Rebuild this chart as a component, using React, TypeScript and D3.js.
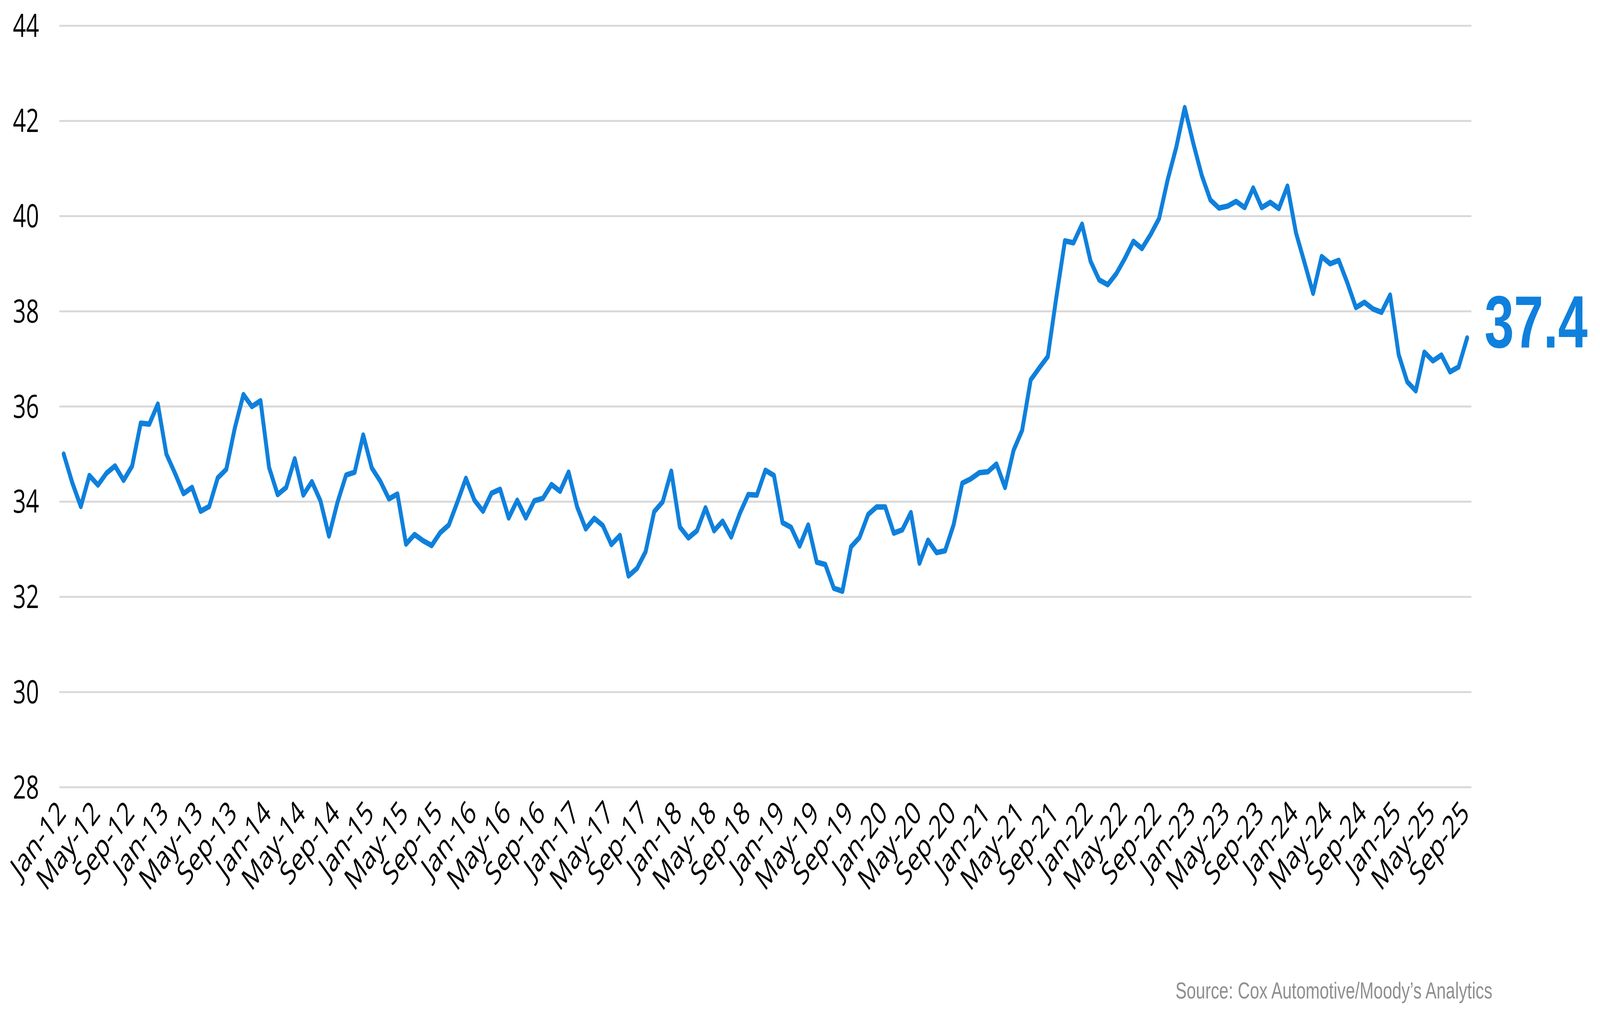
import React, { useRef, useEffect } from 'react';
import * as d3 from 'd3';

// Monthly values, Jan-12 .. Sep-25
const values2012 = [35.0, 34.4, 33.9, 34.55, 34.35, 34.6, 34.75, 34.45, 34.75, 35.65, 35.63, 36.05];
const values2013 = [35.0, 34.6, 34.17, 34.3, 33.8, 33.9, 34.5, 34.68, 35.55, 36.25, 36.0, 36.12];
const values2014 = [34.72, 34.15, 34.3, 34.9, 34.14, 34.42, 34.02, 33.28, 33.99, 34.56, 34.62, 35.4];
const values2015 = [34.71, 34.43, 34.06, 34.16, 33.11, 33.31, 33.18, 33.08, 33.35, 33.51, 33.99, 34.49];
const values2016 = [34.03, 33.8, 34.18, 34.26, 33.66, 34.03, 33.66, 34.02, 34.07, 34.36, 34.22, 34.62];
const values2017 = [33.89, 33.43, 33.65, 33.5, 33.1, 33.29, 32.44, 32.6, 32.95, 33.79, 34.0, 34.64];
const values2018 = [33.47, 33.24, 33.39, 33.87, 33.39, 33.59, 33.26, 33.75, 34.15, 34.14, 34.66, 34.55];
const values2019 = [33.56, 33.46, 33.07, 33.51, 32.73, 32.68, 32.18, 32.12, 33.05, 33.25, 33.73, 33.89];
const values2020 = [33.89, 33.34, 33.41, 33.77, 32.71, 33.19, 32.93, 32.97, 33.52, 34.39, 34.48, 34.61];
const values2021 = [34.63, 34.79, 34.3, 35.08, 35.5, 36.56, 36.81, 37.05, 38.3, 39.48, 39.44, 39.83];
const values2022 = [39.05, 38.66, 38.56, 38.79, 39.11, 39.47, 39.32, 39.61, 39.95, 40.76, 41.44, 42.28];
const values2023 = [41.53, 40.85, 40.34, 40.17, 40.21, 40.31, 40.18, 40.59, 40.18, 40.29, 40.16, 40.63];
const values2024 = [39.65, 39.02, 38.38, 39.15, 39.0, 39.07, 38.6, 38.08, 38.19, 38.05, 37.98, 38.34];
const values2025 = [37.09, 36.52, 36.33, 37.14, 36.96, 37.08, 36.73, 36.83, 37.44];

const values = [
	...values2012, ...values2013, ...values2014, ...values2015, ...values2016,
	...values2017, ...values2018, ...values2019, ...values2020, ...values2021,
	...values2022, ...values2023, ...values2024, ...values2025,
];

const fmtMonth = d3.timeFormat('%b-%y');
const months = d3.timeMonths(new Date(2012, 0, 1), new Date(2025, 9, 1)).map(fmtMonth);
const tickLabels = months.filter((_, i) => i % 4 === 0);
const yTicks = [28, 30, 32, 34, 36, 38, 40, 42, 44];
const lastLabel = '37.4';
const sourceText = 'Source: Cox Automotive/Moody’s Analytics';

const W = 5736;
const H = 2653;

const App: React.FC = () => {
	const svgRef = useRef<SVGSVGElement | null>(null);

	useEffect(() => {
		if (!svgRef.current) return;
		const svg = d3.select(svgRef.current);
		svg.selectAll('*').remove();

		const blue = '#0F80DC';
		const axisFont = '"Open Sans", sans-serif';

		const x = d3.scalePoint<string>().domain(months).range([213, 5275]).padding(0.5);
		const y = d3.scaleLinear().domain([28, 44]).range([2016, 66]);

		svg.append('rect').attr('width', W).attr('height', H).attr('fill', '#fff');

		// gridlines
		svg.append('g')
			.selectAll('line')
			.data(yTicks)
			.join('line')
			.attr('x1', 213)
			.attr('x2', 5275)
			.attr('y1', d => y(d))
			.attr('y2', d => y(d))
			.attr('stroke', '#d9d9d9')
			.attr('stroke-width', 5);

		// y labels
		svg.append('g')
			.selectAll('text')
			.data(yTicks)
			.join('text')
			.attr('x', 140)
			.attr('y', d => y(d))
			.attr('dy', '0.35em')
			.attr('text-anchor', 'end')
			.style('font-family', axisFont)
			.style('font-size', '82px')
			.attr('fill', '#000')
			.text(d => d);

		// x labels, rotated
		svg.append('g')
			.selectAll('text')
			.data(tickLabels)
			.join('text')
			.attr('transform', d => `translate(${x(d)! - 8},${2016 + 50}) rotate(-45)`)
			.attr('dy', '0.35em')
			.attr('text-anchor', 'end')
			.style('font-family', axisFont)
			.style('font-size', '82px')
			.attr('fill', '#000')
			.text(d => d);

		// the line
		const line = d3.line<number>()
			.x((_, i) => x(months[i])!)
			.y(d => y(d));

		svg.append('path')
			.datum(values)
			.attr('d', line)
			.attr('fill', 'none')
			.attr('stroke', blue)
			.attr('stroke-width', 14)
			.attr('stroke-linejoin', 'round')
			.attr('stroke-linecap', 'round');

		// end value label
		const lastX = x(months[months.length - 1])!;
		const lastY = y(values[values.length - 1]);
		svg.append('text')
			.attr('x', lastX + 62)
			.attr('y', lastY + 25)
			.style('font-family', '"Liberation Sans", Arial, sans-serif')
			.style('font-weight', 'bold')
			.style('font-size', '190px')
			.attr('fill', blue)
			.text(lastLabel);

		// source
		svg.append('text')
			.attr('x', 5350)
			.attr('y', 2557)
			.attr('text-anchor', 'end')
			.style('font-family', '"Liberation Sans", Arial, sans-serif')
			.style('font-size', '60px')
			.attr('fill', '#8f8f8f')
			.text(sourceText);

		return () => {
			svg.selectAll('*').remove();
		};
	}, []);

	// the window may be narrower than the chart, so scale the whole drawing to it
	return (
		<svg
			ref={svgRef}
			viewBox={`0 0 ${W} ${H}`}
			preserveAspectRatio="none"
			style={{ position: 'fixed', left: 0, top: 0, width: '100vw', height: '100vh', display: 'block' }}
		/>
	);
};

export default App;
